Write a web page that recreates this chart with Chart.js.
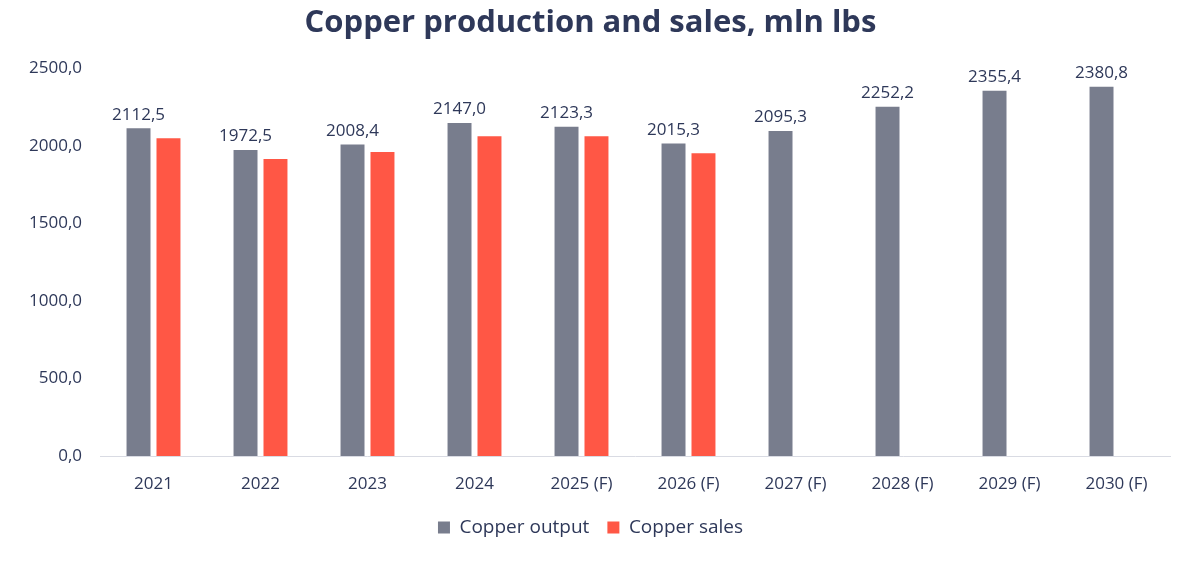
<!DOCTYPE html>
<html>
<head>
<meta charset="utf-8">
<script src="https://cdn.jsdelivr.net/npm/chart.js@4.4.1/dist/chart.umd.min.js"></script>
<style>
html,body{margin:0;padding:0;background:#ffffff;}
#wrap{width:1192px;height:562px;}
</style>
</head>
<body>
<div id="wrap"><canvas id="c" width="1192" height="562"></canvas></div>
<script>
const categories = ["2021","2022","2023","2024","2025 (F)","2026 (F)","2027 (F)","2028 (F)","2029 (F)","2030 (F)"];
const copperOutput = [2112.5,1972.5,2008.4,2147.0,2123.3,2015.3,2095.3,2252.2,2355.4,2380.8];
const copperSales = [2049,1914,1959,2062,2062,1952,null,null,null,null];
const yTicks = [0,500,1000,1500,2000,2500];

const textColor = '#2e3859';
const fontFamily = '"Open Sans", Lato, sans-serif';
const fmt = v => v.toFixed(1).replace('.', ',');

const labelPlugin = {
  id: 'barLabels',
  afterDatasetsDraw(chart) {
    const ctx = chart.ctx;
    const meta = chart.getDatasetMeta(0);
    ctx.save();
    ctx.fillStyle = textColor;
    ctx.font = '17px ' + fontFamily;
    ctx.textAlign = 'center';
    ctx.textBaseline = 'bottom';
    meta.data.forEach((bar, i) => {
      const v = copperOutput[i];
      if (v == null) return;
      ctx.fillText(fmt(v), bar.x, bar.y - 5);
    });
    ctx.restore();
  }
};

new Chart(document.getElementById('c'), {
  type: 'bar',
  data: {
    labels: categories,
    datasets: [
      { label: 'Copper output', data: copperOutput, backgroundColor: '#787d8d', categoryPercentage: 0.56, barPercentage: 0.8 },
      { label: 'Copper sales', data: copperSales, backgroundColor: '#ff5745', categoryPercentage: 0.56, barPercentage: 0.8 }
    ]
  },
  options: {
    responsive: false,
    animation: false,
    layout: { padding: { left: 11, right: 22, top: 0, bottom: 15 } },
    plugins: {
      title: {
        display: true,
        text: 'Copper production and sales, mln lbs',
        color: textColor,
        font: { family: fontFamily, size: 31, weight: 'bold' },
        padding: { top: 5, bottom: 26 }
      },
      legend: {
        position: 'bottom',
        labels: {
          color: textColor,
          font: { family: fontFamily, size: 19 },
          boxWidth: 12, boxHeight: 12,
          padding: 18
        }
      },
      tooltip: { enabled: false }
    },
    scales: {
      x: {
        grid: { display: false, drawTicks: false },
        border: { color: '#d9dbe3', width: 1 },
        ticks: { color: textColor, font: { family: fontFamily, size: 17 }, padding: 18 },
        afterFit: axis => { axis.height = 44; }
      },
      y: {
        min: 0, max: 2500,
        afterBuildTicks: axis => { axis.ticks = yTicks.map(v => ({ value: v })); },
        grid: { display: false, drawTicks: false },
        border: { display: false },
        ticks: { color: textColor, font: { family: fontFamily, size: 17 }, padding: 18, callback: v => fmt(v) }
      }
    }
  },
  plugins: [labelPlugin]
});
</script>
</body>
</html>
